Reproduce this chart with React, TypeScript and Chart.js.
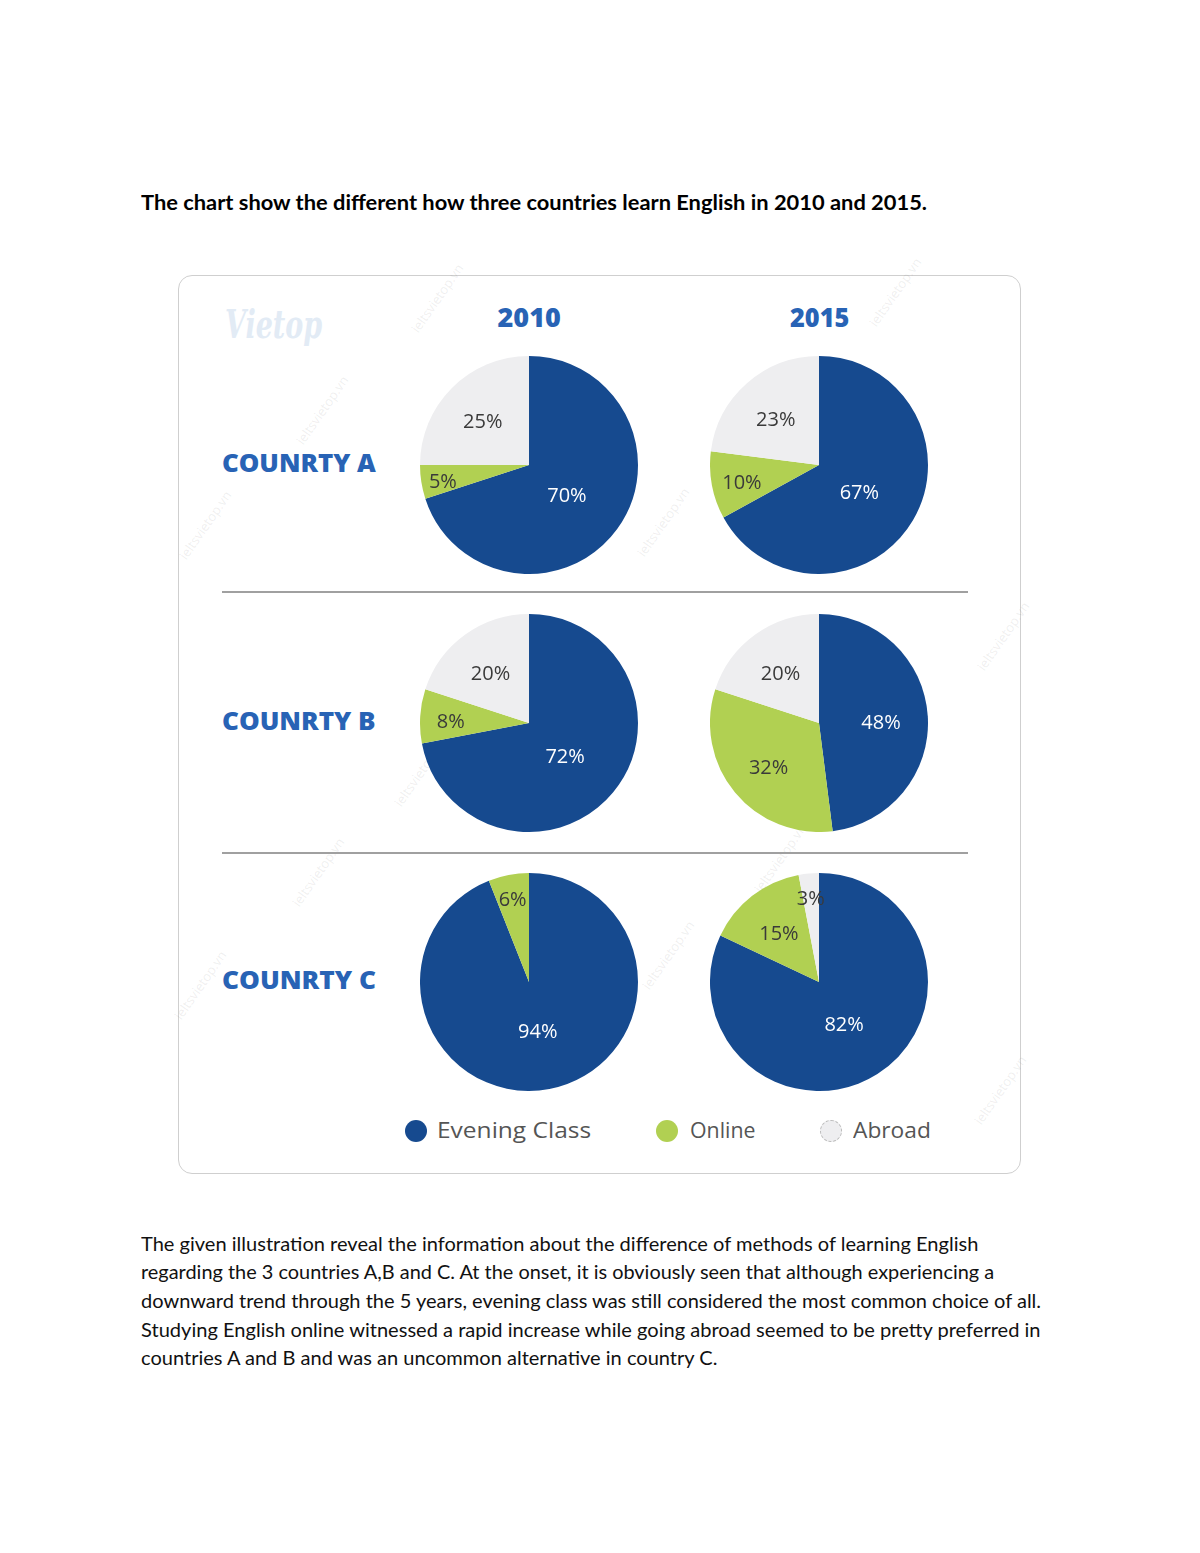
import React, { useEffect, useLayoutEffect, useRef, useState } from "react";
import { Chart, registerables } from "chart.js";

Chart.register(...registerables);

// ---------- data ----------
const CATEGORIES = ["Evening Class", "Online", "Abroad"];
const YEARS = ["2010", "2015"];
const COUNTRIES = ["COUNRTY A", "COUNRTY B", "COUNRTY C"];

const COUNTRY_A_2010 = [70, 5, 25];
const COUNTRY_A_2015 = [67, 10, 23];
const COUNTRY_B_2010 = [72, 8, 20];
const COUNTRY_B_2015 = [48, 32, 20];
const COUNTRY_C_2010 = [94, 6, 0];
const COUNTRY_C_2015 = [82, 15, 3];

const TITLE = "The chart show the different how three countries learn English in 2010 and 2015.";
const PARAGRAPH_LINES = [
  "The given illustration reveal the information about the difference of methods of learning English",
  "regarding the 3 countries A,B and C. At the onset, it is obviously seen that although experiencing a",
  "downward trend through the 5 years, evening class was still considered the most common choice of all.",
  "Studying English online witnessed a rapid increase while going abroad seemed to be pretty preferred in",
  "countries A and B and was an uncommon alternative in country C.",
];

// ---------- styles ----------
const SLICE_COLORS = ["#164a8f", "#b1d052", "#eeeef0"];
const LABEL_COLORS = ["#ffffff", "#3a3a3a", "#3a3a3a"];
const TITLE_BLUE = "#2863b5";
const R = 109;

function labelFraction(v: number) {
  if (v >= 60) return 0.43;
  if (v >= 40) return 0.57;
  if (v >= 15) return 0.6;
  if (v >= 7) return 0.72;
  return 0.8;
}

const sliceLabelPlugin = {
  id: "sliceLabels",
  afterDatasetsDraw(chart: any) {
    const ctx = chart.ctx;
    const ds = chart.data.datasets[0];
    const meta = chart.getDatasetMeta(0);
    ctx.save();
    ctx.font = "400 20px 'Open Sans', 'Noto Sans', sans-serif";
    ctx.textAlign = "center";
    ctx.textBaseline = "middle";
    meta.data.forEach((arc: any, i: number) => {
      const v = ds.data[i] as number;
      if (!v) return;
      const p = arc.getProps(["x", "y", "startAngle", "endAngle", "outerRadius"], true);
      const mid = (p.startAngle + p.endAngle) / 2;
      const f = labelFraction(v) * p.outerRadius;
      ctx.fillStyle = LABEL_COLORS[i];
      ctx.fillText(`${v}%`, p.x + Math.cos(mid) * f, p.y + Math.sin(mid) * f + 4);
    });
    ctx.restore();
  },
};

function Pie({ values, cx, cy }: { values: number[]; cx: number; cy: number }) {
  const ref = useRef<HTMLCanvasElement>(null);
  useEffect(() => {
    if (!ref.current) return;
    const chart = new Chart(ref.current, {
      type: "pie",
      data: {
        labels: CATEGORIES,
        datasets: [{ data: values, backgroundColor: SLICE_COLORS, borderWidth: 0 }],
      },
      options: {
        responsive: false,
        maintainAspectRatio: false,
        animation: false,
        layout: { padding: 0 },
        plugins: { legend: { display: false }, tooltip: { enabled: false } },
      },
      plugins: [sliceLabelPlugin],
    } as any);
    return () => chart.destroy();
  }, [values]);
  return (
    <canvas
      ref={ref}
      width={2 * R}
      height={2 * R}
      style={{ position: "absolute", left: cx - R, top: cy - R, width: 2 * R, height: 2 * R }}
    />
  );
}

function FitText(props: {
  x: number;
  cy: number;
  w?: number;
  size: number;
  weight?: number | string;
  color?: string;
  family?: string;
  italic?: boolean;
  children: React.ReactNode;
}) {
  const { x, cy, w, size, weight = 400, color = "#000", family = "'Open Sans', sans-serif", italic } = props;
  const ref = useRef<HTMLSpanElement>(null);
  const [s, setS] = useState(1);
  useLayoutEffect(() => {
    const el = ref.current;
    if (el && w) {
      const nat = el.offsetWidth;
      if (nat > 0) setS(w / nat);
    }
  }, [w, props.children]);
  return (
    <span
      ref={ref}
      style={{
        position: "absolute",
        left: x,
        top: cy - size * 0.56,
        fontSize: size,
        lineHeight: 1,
        fontFamily: family,
        fontWeight: weight as any,
        fontStyle: italic ? "italic" : "normal",
        color,
        whiteSpace: "nowrap",
        transform: `scaleX(${s})`,
        transformOrigin: "left center",
      }}
    >
      {props.children}
    </span>
  );
}

const WATERMARKS: [number, number][] = [
  [437, 298], [895, 292], [322, 410], [205, 525], [663, 522], [778, 405],
  [1003, 636], [318, 872], [200, 985], [668, 955], [780, 858], [1000, 1090], [420, 772],
];

export default function App() {
  const cols = [529, 819];
  const rows = [465, 723, 982];
  const pies = [
    [COUNTRY_A_2010, COUNTRY_A_2015],
    [COUNTRY_B_2010, COUNTRY_B_2015],
    [COUNTRY_C_2010, COUNTRY_C_2015],
  ];
  const yearWidths = [63, 59];
  const legendItems = [
    { cx: 416, tx: 437, tw: 154 },
    { cx: 667, tx: 690, tw: 66 },
    { cx: 831, tx: 853, tw: 78 },
  ];
  const paraWidths = [837, 853, 900, 900, 576];
  const bodyFont = "Lato, 'Open Sans', sans-serif";

  return (
    <div style={{ position: "absolute", left: 0, top: 0, width: 1200, height: 1553, background: "#fff", overflow: "hidden" }}>
      <FitText x={141} cy={203} w={786} size={21} weight={700} family={bodyFont}>
        {TITLE}
      </FitText>

      {/* chart box */}
      <div
        style={{
          position: "absolute",
          left: 178,
          top: 275,
          width: 843,
          height: 899,
          border: "1.5px solid #cfcfcf",
          borderRadius: 14,
          boxSizing: "border-box",
        }}
      />

      {WATERMARKS.map(([x, y], i) => (
        <span
          key={i}
          style={{
            position: "absolute",
            left: x - 50,
            top: y - 8,
            width: 100,
            textAlign: "center",
            fontSize: 13,
            lineHeight: "16px",
            fontFamily: "'Open Sans', sans-serif",
            color: "rgba(120,120,120,0.12)",
            transform: "rotate(-55deg)",
            whiteSpace: "nowrap",
          }}
        >
          ieltsvietop.vn
        </span>
      ))}

      <FitText x={225} cy={326} w={97} size={40} weight={700} italic color="#e2ebf5" family="'DejaVu Serif', serif">
        Vietop
      </FitText>

      {YEARS.map((y, i) => (
        <FitText key={y} x={cols[i] - yearWidths[i] / 2} cy={318} w={yearWidths[i]} size={27} weight={800} color={TITLE_BLUE}>
          {y}
        </FitText>
      ))}

      {COUNTRIES.map((c, i) => (
        <FitText key={c} x={222} cy={rows[i] - 1} w={154} size={24} weight={800} color={TITLE_BLUE}>
          {c}
        </FitText>
      ))}

      {/* separators */}
      {[592, 853].map((y) => (
        <div key={y} style={{ position: "absolute", left: 222, top: y - 1, width: 746, height: 2, background: "#a0a0a0" }} />
      ))}

      {pies.map((row, ri) =>
        row.map((vals, ci) => <Pie key={`${ri}-${ci}`} values={vals} cx={cols[ci]} cy={rows[ri]} />)
      )}

      {/* legend */}
      {CATEGORIES.map((c, i) => (
        <React.Fragment key={c}>
          <div
            style={{
              position: "absolute",
              left: legendItems[i].cx - 11,
              top: 1131 - 11,
              width: 22,
              height: 22,
              borderRadius: "50%",
              background: SLICE_COLORS[i],
              boxSizing: "border-box",
              border: i === 2 ? "1px dashed #bbbbbb" : "none",
            }}
          />
          <FitText x={legendItems[i].tx} cy={1132} w={legendItems[i].tw} size={21} color="#555555">
            {c}
          </FitText>
        </React.Fragment>
      ))}

      {PARAGRAPH_LINES.map((l, i) => (
        <FitText key={i} x={141} cy={1244 + i * 28.6} w={paraWidths[i]} size={20} family={bodyFont} color="#111">
          {l}
        </FitText>
      ))}
    </div>
  );
}
